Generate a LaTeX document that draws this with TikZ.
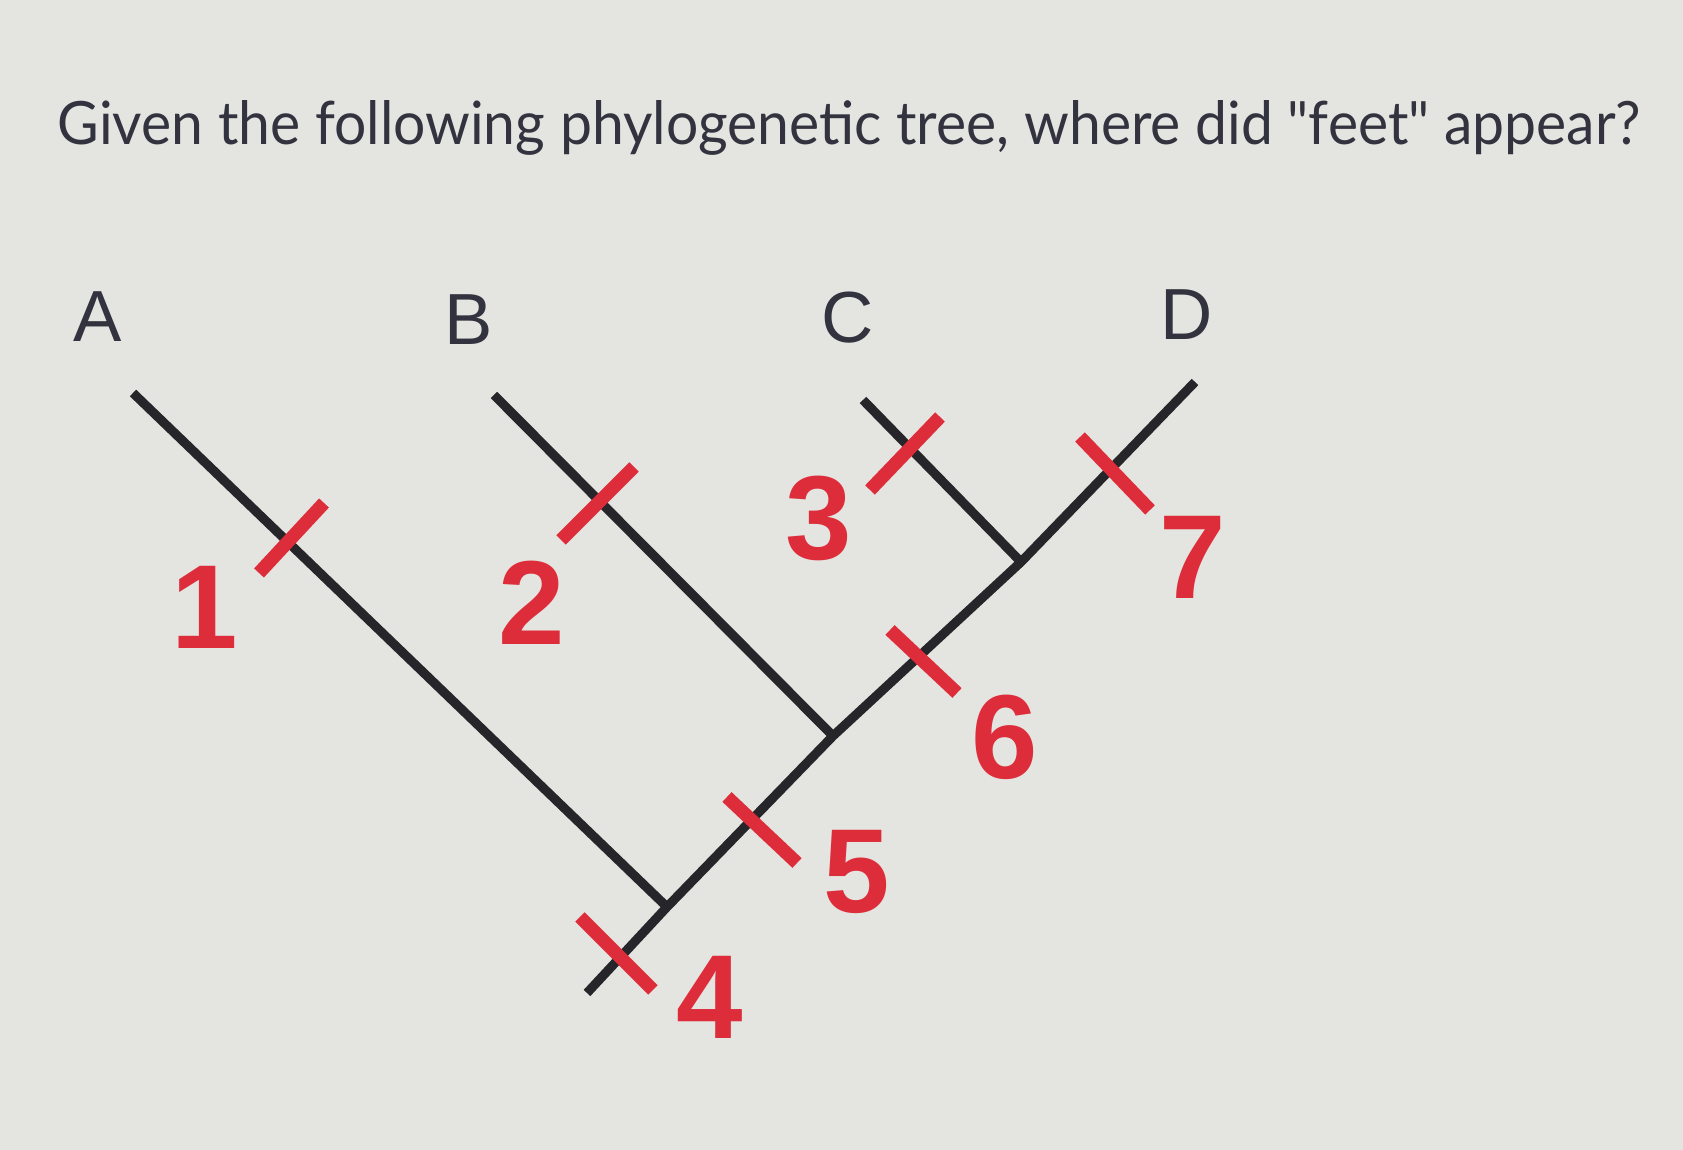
\documentclass[tikz,border=0pt]{standalone}
\usepackage{fontspec}
\setmainfont{Liberation Sans}
\newfontfamily\latofont[FakeStretch=0.955]{Lato}
\usepackage{tikz}
\usepackage{xcolor}
\definecolor{screengray}{RGB}{228,228,224}
\definecolor{inkgray}{RGB}{50,51,62}
\definecolor{treeblack}{RGB}{37,37,42}
\definecolor{markred}{RGB}{222,45,58}

\begin{document}
\begin{tikzpicture}[
    branch/.style={line width=2.6pt, treeblack, line join=round},
    tickmark/.style={line width=3.8pt, markred},
    taxon/.style={inner sep=0pt, text=inkgray, font=\fontsize{20.6}{24}\selectfont},
    traitnum/.style={inner sep=0pt, text=markred, font=\fontsize{34}{40}\selectfont\bfseries}]
    % Screen background
    \fill[screengray] (0,0) rectangle (16.83,11.50);
    \useasboundingbox (0,0) rectangle (16.83,11.50);

    % Question
    \node[anchor=base west, inner sep=0pt, text=inkgray, font=\latofont\fontsize{17}{20}\selectfont] (question) at (0.57,10.05) {Given the following phylogenetic tree, where did "feet" appear?};

    % Taxa
    \node[taxon] (A) at (0.98,8.33) {A};
    \node[taxon] (B) at (4.69,8.30) {B};
    \node[taxon] (C) at (8.48,8.32) {C};
    \node[taxon] (D) at (11.87,8.35) {D};

    % Branch tips and splits
    \coordinate (tipA) at (1.33,7.57);
    \coordinate (tipB) at (4.94,7.55);
    \coordinate (tipC) at (8.63,7.50);
    \coordinate (tipD) at (11.95,7.68);
    \coordinate (root) at (5.87,1.57);
    \coordinate (splitA) at (6.67,2.43);
    \coordinate (splitB) at (8.33,4.14);
    \coordinate (splitC) at (10.21,5.88);

    % Tree
    \draw[branch] (root) -- (splitA) -- (splitB) -- (splitC) -- (tipD);
    \draw[branch] (tipA) -- (splitA);
    \draw[branch] (tipB) -- (splitB);
    \draw[branch] (tipC) -- (splitC);

    % Trait marks
    \draw[tickmark] (2.59,5.77) -- (3.24,6.47);
    \draw[tickmark] (5.61,6.10) -- (6.34,6.83);
    \draw[tickmark] (8.70,6.60) -- (9.40,7.33);
    \draw[tickmark] (5.80,2.33) -- (6.53,1.60);
    \draw[tickmark] (7.27,3.53) -- (7.97,2.87);
    \draw[tickmark] (8.90,5.20) -- (9.57,4.57);
    \draw[tickmark] (10.80,7.13) -- (11.50,6.40);

    \node[traitnum] (n1) at (2.05,5.43) {1};
    \node[traitnum] (n2) at (5.32,5.47) {2};
    \node[traitnum] (n3) at (8.19,6.32) {3};
    \node[traitnum] (n4) at (7.10,1.53) {4};
    \node[traitnum] (n5) at (8.57,2.78) {5};
    \node[traitnum] (n6) at (10.05,4.13) {6};
    \node[traitnum] (n7) at (11.93,5.93) {7};
\end{tikzpicture}
\end{document}
